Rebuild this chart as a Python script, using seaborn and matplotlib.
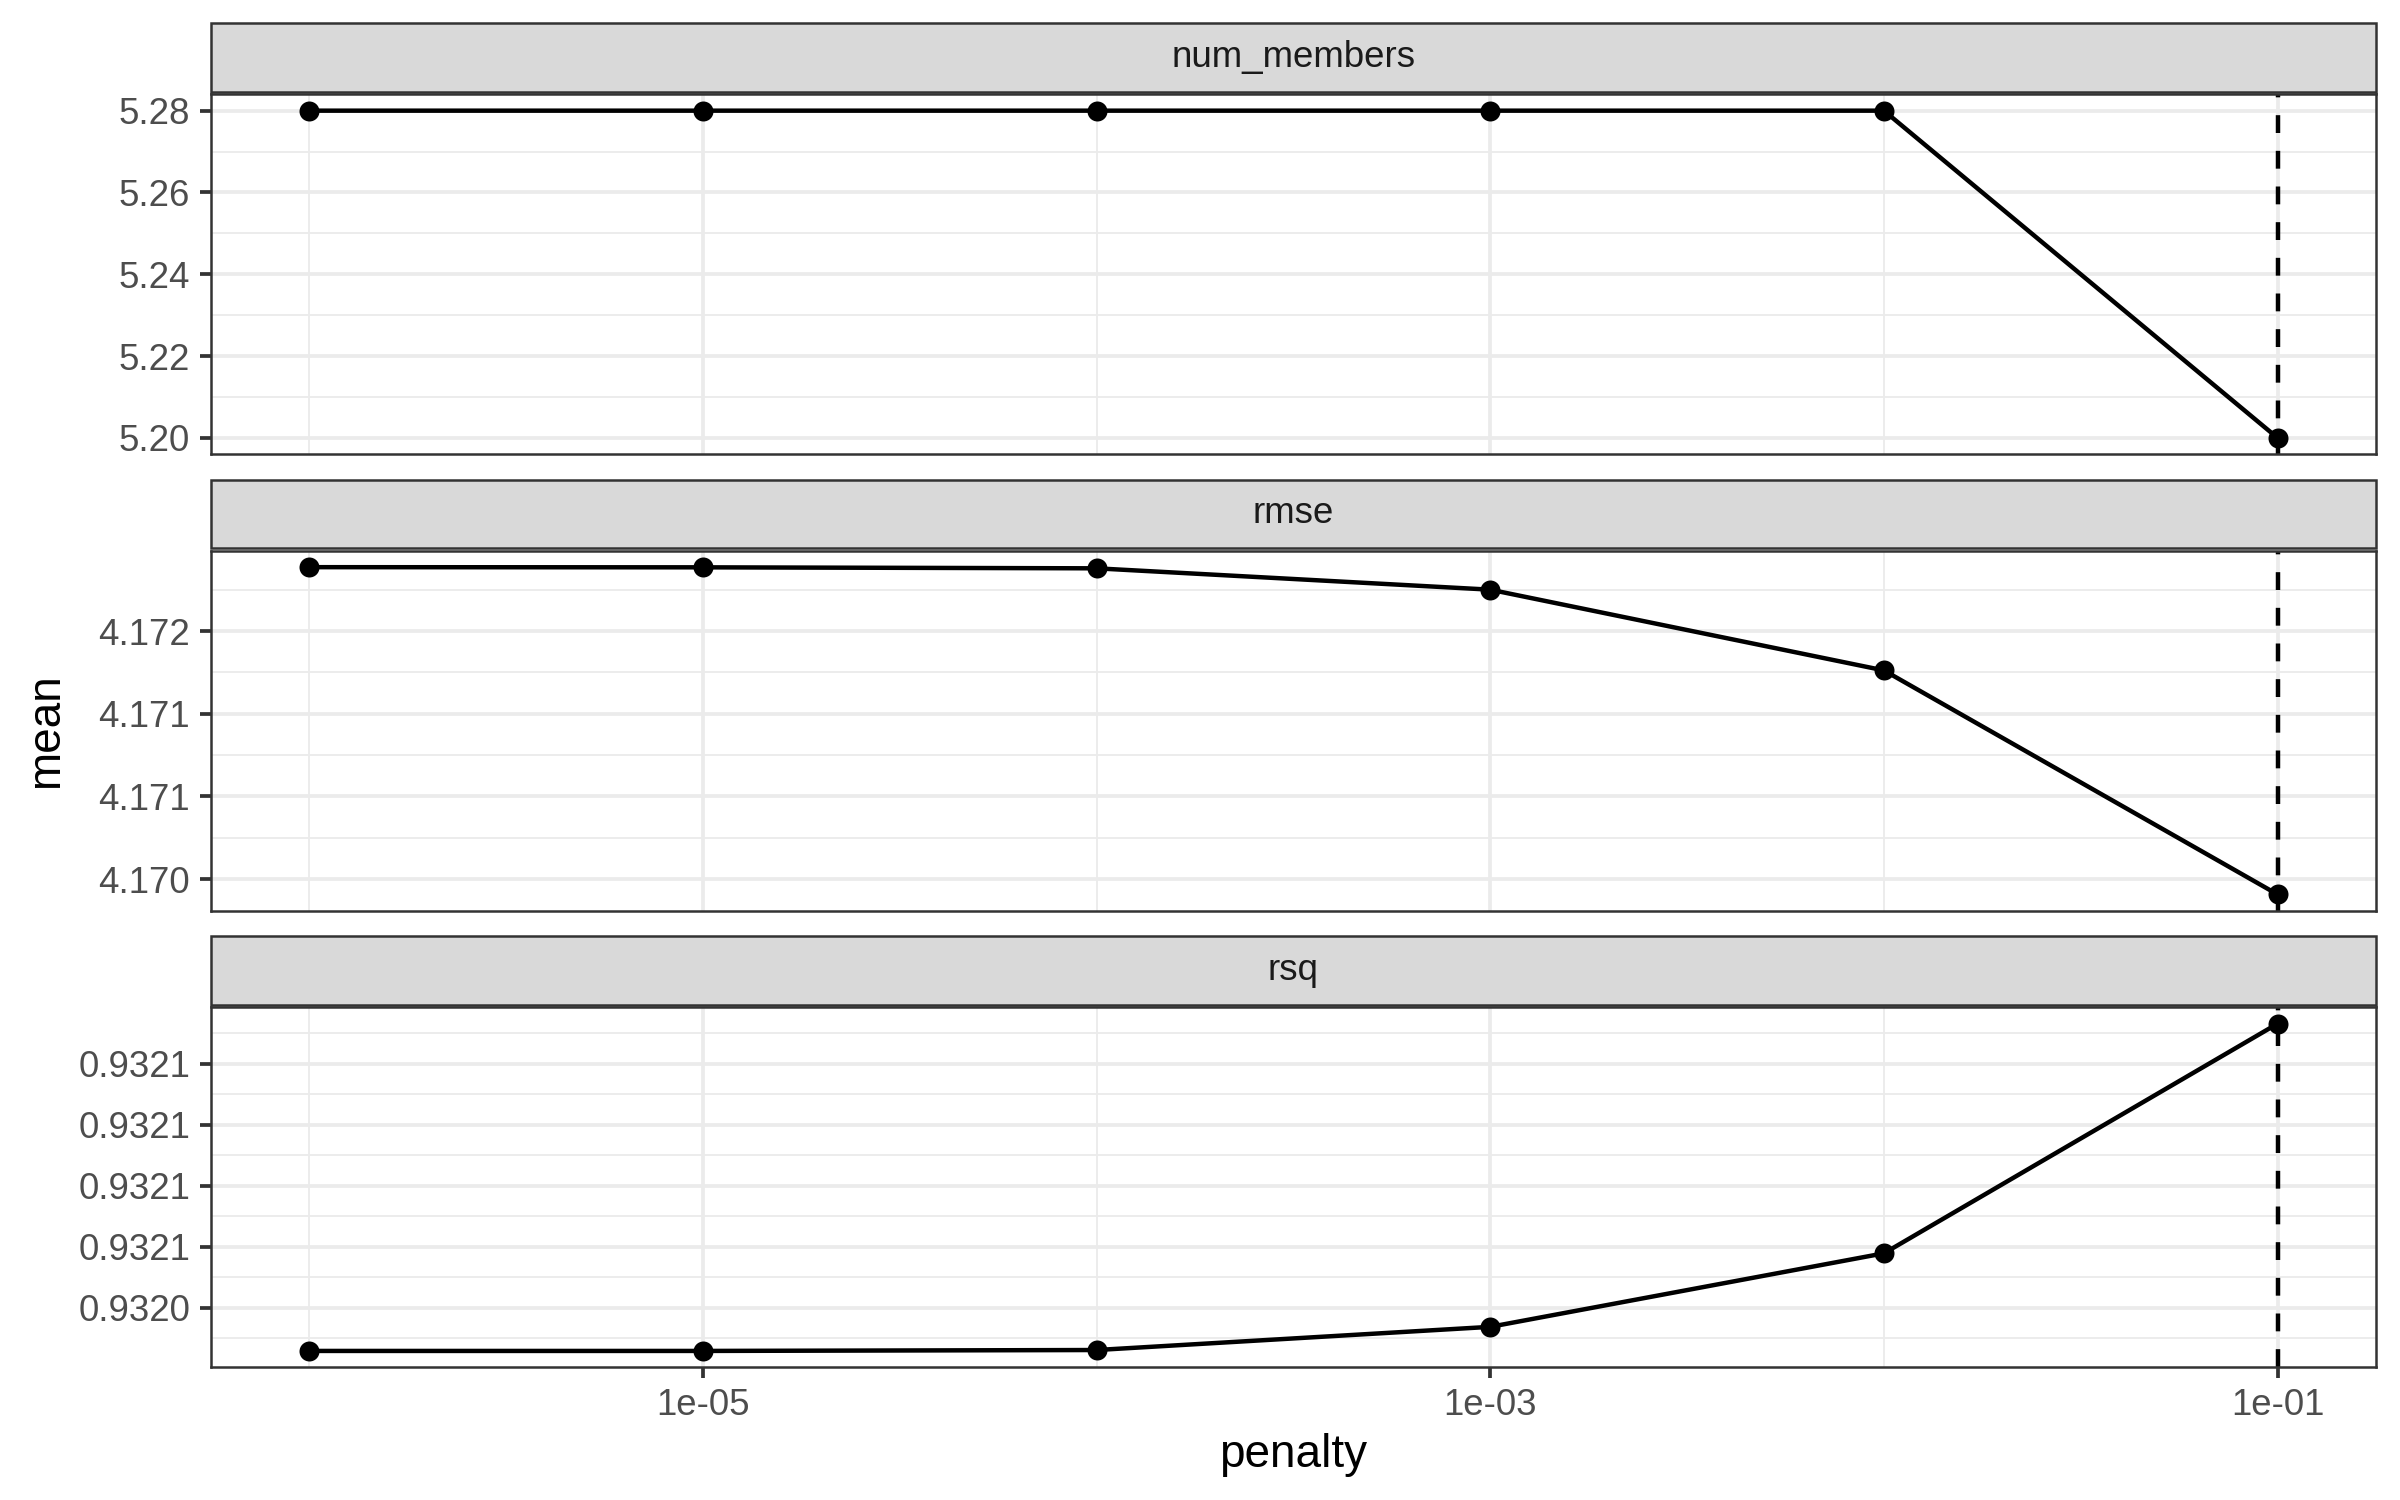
import numpy as np
import pandas as pd
import matplotlib.pyplot as plt
import seaborn as sns
from matplotlib.patches import Rectangle
from matplotlib.ticker import FixedLocator, FixedFormatter

sns.set_theme(style='white')
plt.rcParams['font.family'] = ['Liberation Sans', 'DejaVu Sans']

# data
penalty = [1e-6, 1e-5, 1e-4, 1e-3, 1e-2, 1e-1]
metrics = ['num_members', 'rmse', 'rsq']
num_members = [5.28, 5.28, 5.28, 5.28, 5.28, 5.20]
rmse = [4.171886, 4.171885, 4.171879, 4.171750, 4.171262, 4.169908]
rsq = [0.9320259, 0.9320259, 0.9320262, 0.9320338, 0.9320579, 0.9321332]
best_penalty = 1e-1

x_ticks = [1e-5, 1e-3, 1e-1]
x_labels = ['1e-05', '1e-03', '1e-01']
x_minor = [1e-6, 1e-4, 1e-2]

y_ticks = {
    'num_members': [5.20, 5.22, 5.24, 5.26, 5.28],
    'rmse': [4.1700, 4.1705, 4.1710, 4.1715],
    'rsq': [0.93204, 0.93206, 0.93208, 0.93210, 0.93212],
}
y_labels = {
    'num_members': ['5.20', '5.22', '5.24', '5.26', '5.28'],
    'rmse': ['4.170', '4.171', '4.171', '4.172'],
    'rsq': ['0.9320', '0.9321', '0.9321', '0.9321', '0.9321'],
}
y_minor = {
    'num_members': [5.21, 5.23, 5.25, 5.27],
    'rmse': [4.16975, 4.17025, 4.17075, 4.17125, 4.17175],
    'rsq': [0.93203, 0.93205, 0.93207, 0.93209, 0.93211, 0.93213],
}

df = pd.DataFrame({
    'penalty': penalty * 3,
    'mean': num_members + rmse + rsq,
    '.metric': np.repeat(metrics, len(penalty)),
})

g = sns.relplot(
    data=df, x='penalty', y='mean', row='.metric', row_order=metrics,
    kind='line', color='black', marker='o', markersize=4.8,
    markeredgecolor='black', markeredgewidth=0, linewidth=1.07,
    height=5 / 3, aspect=4.8,
    facet_kws=dict(sharey=False, sharex=True),
)
fig = g.figure
fig.set_size_inches(8, 5)
g.set_titles('')
g.set_axis_labels('', '')

W, H = 2400, 1500
left, right = 210.8 / W, 2376 / W
panel_h = 360 / H
strip_h = 68.4 / H
strip_gap = 2.7 / H
panel_tops = [94.3, 550.8, 1007.3]

grid_col = '#EBEBEB'
border_col = '#333333'

for i, (ax, metric) in enumerate(zip(g.axes.flat, metrics)):
    top = 1 - panel_tops[i] / H
    ax.set_position([left, top - panel_h, right - left, panel_h])
    ax.set_xscale('log')
    ax.margins(x=0.05, y=0.05)

    ax.xaxis.set_major_locator(FixedLocator(x_ticks))
    ax.xaxis.set_minor_locator(FixedLocator(x_minor))
    ax.xaxis.set_minor_formatter(FixedFormatter([''] * len(x_minor)))
    ax.yaxis.set_major_locator(FixedLocator(y_ticks[metric]))
    ax.yaxis.set_major_formatter(FixedFormatter(y_labels[metric]))
    ax.yaxis.set_minor_locator(FixedLocator(y_minor[metric]))

    ax.grid(True, which='major', color=grid_col, linewidth=0.9)
    ax.grid(True, which='minor', color=grid_col, linewidth=0.45)
    ax.set_axisbelow(True)

    ax.axvline(best_penalty, color='black', linewidth=1.07,
               linestyle=(0, (4, 4)), zorder=1.5)

    for sp in ax.spines.values():
        sp.set_visible(True)
        sp.set_color(border_col)
        sp.set_linewidth(0.6)

    ax.tick_params(axis='y', which='major', length=2.75, width=0.9,
                   color=border_col, labelsize=8.8, labelcolor='#4D4D4D',
                   pad=2.2, left=True)
    ax.tick_params(which='minor', length=0)
    if i == len(metrics) - 1:
        ax.xaxis.set_major_formatter(FixedFormatter(x_labels))
        ax.tick_params(axis='x', which='major', length=2.75, width=0.9,
                       color=border_col, labelsize=8.8, labelcolor='#4D4D4D',
                       pad=2.2, bottom=True, labelbottom=True)
    else:
        ax.tick_params(axis='x', which='major', length=0, labelbottom=False)

    # ggplot-style facet strip
    sb = top + strip_gap
    fig.add_artist(Rectangle((left, sb), right - left, strip_h,
                             transform=fig.transFigure, facecolor='#D9D9D9',
                             edgecolor=border_col, linewidth=0.6))
    fig.text((left + right) / 2, sb + strip_h / 2, metric, ha='center',
             va='center', fontsize=8.8, color='#1A1A1A')

fig.text((left + right) / 2, 1 - 1467 / H, 'penalty', ha='center',
         va='baseline', fontsize=11, color='black')
fig.text(58 / W, 1 - 731 / H, 'mean', rotation=90, rotation_mode='anchor',
         ha='center', va='baseline', fontsize=11, color='black')

fig.savefig('out.png', dpi=300, facecolor='white')
